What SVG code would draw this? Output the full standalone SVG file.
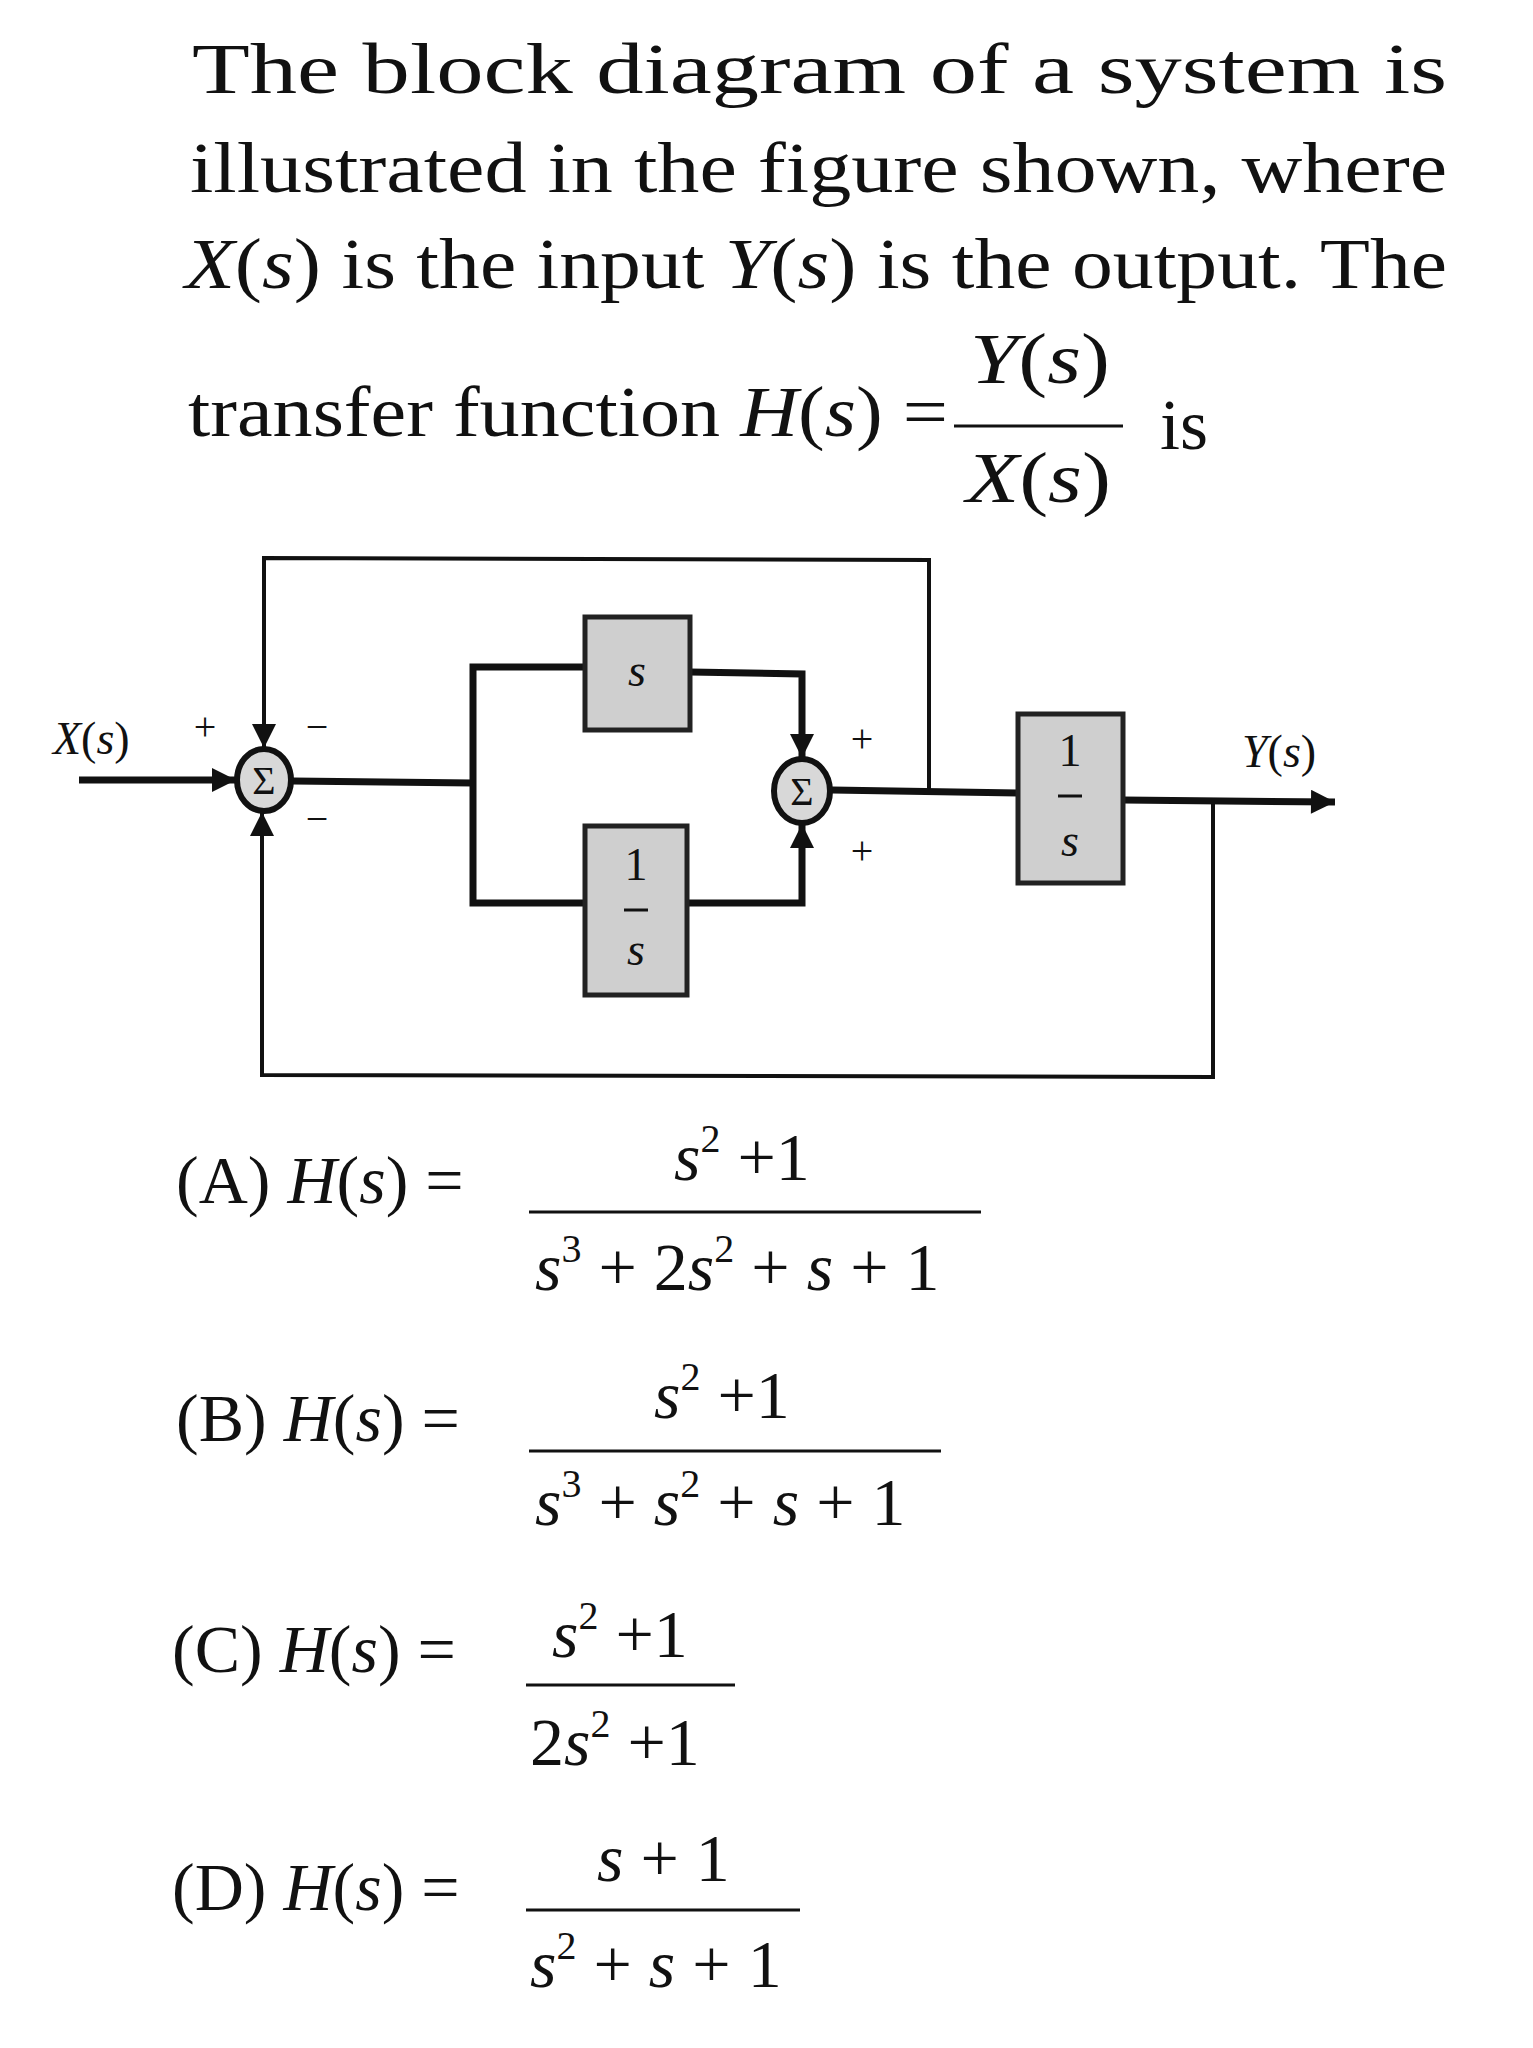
<svg xmlns="http://www.w3.org/2000/svg" width="1533" height="2048" viewBox="0 0 1533 2048">
<defs>
<marker id="ah" viewBox="0 0 10 10" refX="10" refY="5" markerWidth="28" markerHeight="24" markerUnits="userSpaceOnUse" orient="auto"><path d="M0,0 L10,5 L0,10 z" fill="#111"/></marker>
</defs>
<style>
text{font-family:"Liberation Serif",serif;fill:#111}
.q{font-size:72px}
.m{font-size:68px}
.d{font-size:46px}
.sm{font-size:40px}
.i{font-style:italic}
.ln{stroke:#111;fill:none;stroke-width:4}
.tk{stroke:#111;fill:none;stroke-width:7}
.blk{fill:#cfcfcf;stroke:#222;stroke-width:5}
.sum{fill:#d8d8d8;stroke:#111;stroke-width:6}
.fr{stroke:#111;stroke-width:3}
</style>
<rect width="1533" height="2048" fill="#fff"/>
<g id="question">
<text class="q" x="192" y="93" textLength="1255" lengthAdjust="spacingAndGlyphs">The block diagram of a system is</text>
<text class="q" x="190" y="192" textLength="1257" lengthAdjust="spacingAndGlyphs">illustrated in the figure shown, where</text>
<text class="q" x="185" y="288" textLength="1262" lengthAdjust="spacingAndGlyphs"><tspan class="i">X</tspan>(<tspan class="i">s</tspan>) is the input <tspan class="i">Y</tspan>(<tspan class="i">s</tspan>) is the output. The</text>
<text class="q" x="188" y="436" textLength="760" lengthAdjust="spacingAndGlyphs">transfer function <tspan class="i">H</tspan>(<tspan class="i">s</tspan>) =</text>
<text class="q" x="970" y="383" textLength="140" lengthAdjust="spacingAndGlyphs"><tspan class="i">Y</tspan>(<tspan class="i">s</tspan>)</text>
<line class="fr" x1="954" y1="426" x2="1123" y2="426"/>
<text class="q" x="966" y="502" textLength="145" lengthAdjust="spacingAndGlyphs"><tspan class="i">X</tspan>(<tspan class="i">s</tspan>)</text>
<text class="q" x="1160" y="449">is</text>
</g>
<g id="connectors">
<line class="tk" x1="79" y1="780" x2="236" y2="780" marker-end="url(#ah)"/>
<polyline class="ln" points="929,790 929,560 264,558 264,748" marker-end="url(#ah)"/>
<polyline class="ln" points="1213,801 1213,1077 262,1075 262,812" marker-end="url(#ah)"/>
<line class="tk" x1="293" y1="781" x2="473" y2="783"/>
<polyline class="tk" points="585,667 473,667 473,903 585,903"/>
<polyline class="tk" points="690,672 802,674 802,758" marker-end="url(#ah)"/>
<polyline class="tk" points="687,903 802,903 802,824" marker-end="url(#ah)"/>
<line class="tk" x1="832" y1="790" x2="1018" y2="793"/>
<line class="tk" x1="1123" y1="800" x2="1335" y2="802" marker-end="url(#ah)"/>
</g>
<g id="sum1"><ellipse class="sum" cx="264" cy="780" rx="27" ry="31"/><text x="264" y="794" font-size="40" text-anchor="middle">Σ</text></g>
<g id="sum2"><ellipse class="sum" cx="802" cy="791" rx="28" ry="32"/><text x="802" y="805" font-size="40" text-anchor="middle">Σ</text></g>
<g id="blockS"><rect class="blk" x="585" y="617" width="105" height="113"/><text class="d i" x="637" y="686" text-anchor="middle">s</text></g>
<g id="blockInvS1"><rect class="blk" x="585" y="826" width="102" height="169"/><text class="d" x="636" y="880" text-anchor="middle">1</text><line class="fr" x1="624" y1="910" x2="648" y2="910"/><text class="d i" x="636" y="965" text-anchor="middle">s</text></g>
<g id="blockInvS2"><rect class="blk" x="1018" y="714" width="105" height="169"/><text class="d" x="1070" y="766" text-anchor="middle">1</text><line class="fr" x1="1058" y1="796" x2="1082" y2="796"/><text class="d i" x="1070" y="856" text-anchor="middle">s</text></g>
<g id="labels">
<text class="d" x="53" y="754"><tspan class="i">X</tspan>(<tspan class="i">s</tspan>)</text>
<text class="sm" x="205" y="740" text-anchor="middle">+</text>
<text class="sm" x="317" y="740" text-anchor="middle">−</text>
<text class="sm" x="317" y="832" text-anchor="middle">−</text>
<text class="sm" x="862" y="752" text-anchor="middle">+</text>
<text class="sm" x="862" y="864" text-anchor="middle">+</text>
<text class="d" x="1242" y="767"><tspan class="i">Y</tspan>(<tspan class="i">s</tspan>)</text>
</g>
<g id="options">
<text class="m" x="176" y="1203">(A) <tspan class="i">H</tspan>(<tspan class="i">s</tspan>) =</text>
<text class="m" x="674" y="1180"><tspan class="i">s</tspan><tspan class="sm" dy="-28">2</tspan><tspan dy="28"> +1</tspan></text>
<line class="fr" x1="529" y1="1212" x2="981" y2="1212"/>
<text class="m" x="535" y="1290"><tspan class="i">s</tspan><tspan class="sm" dy="-28">3</tspan><tspan dy="28"> + 2</tspan><tspan class="i">s</tspan><tspan class="sm" dy="-28">2</tspan><tspan dy="28"> + </tspan><tspan class="i">s</tspan> + 1</text>

<text class="m" x="176" y="1441">(B) <tspan class="i">H</tspan>(<tspan class="i">s</tspan>) =</text>
<text class="m" x="654" y="1418"><tspan class="i">s</tspan><tspan class="sm" dy="-28">2</tspan><tspan dy="28"> +1</tspan></text>
<line class="fr" x1="529" y1="1451" x2="941" y2="1451"/>
<text class="m" x="535" y="1525"><tspan class="i">s</tspan><tspan class="sm" dy="-28">3</tspan><tspan dy="28"> + </tspan><tspan class="i">s</tspan><tspan class="sm" dy="-28">2</tspan><tspan dy="28"> + </tspan><tspan class="i">s</tspan> + 1</text>

<text class="m" x="172" y="1672">(C) <tspan class="i">H</tspan>(<tspan class="i">s</tspan>) =</text>
<text class="m" x="552" y="1657"><tspan class="i">s</tspan><tspan class="sm" dy="-28">2</tspan><tspan dy="28"> +1</tspan></text>
<line class="fr" x1="526" y1="1685" x2="735" y2="1685"/>
<text class="m" x="530" y="1765">2<tspan class="i">s</tspan><tspan class="sm" dy="-28">2</tspan><tspan dy="28"> +1</tspan></text>

<text class="m" x="172" y="1910">(D) <tspan class="i">H</tspan>(<tspan class="i">s</tspan>) =</text>
<text class="m" x="597" y="1881"><tspan class="i">s</tspan> + 1</text>
<line class="fr" x1="526" y1="1910" x2="800" y2="1910"/>
<text class="m" x="530" y="1987"><tspan class="i">s</tspan><tspan class="sm" dy="-28">2</tspan><tspan dy="28"> + </tspan><tspan class="i">s</tspan> + 1</text>
</g>
</svg>
